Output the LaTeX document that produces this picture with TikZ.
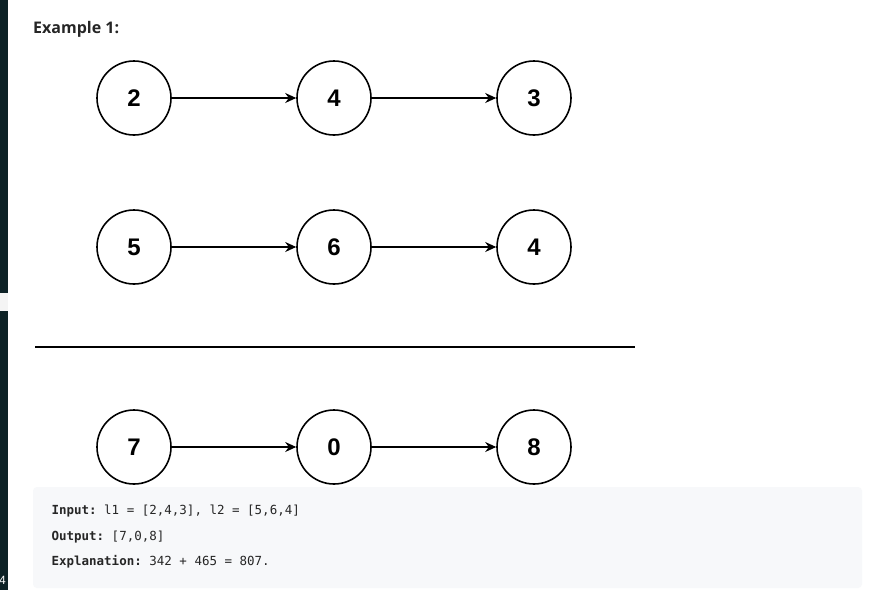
\documentclass[tikz,border=0pt]{standalone}
\usepackage{fontspec}
\setmainfont{Liberation Sans}
\setsansfont{Open Sans}
\setmonofont{DejaVu Sans Mono}
\usetikzlibrary{arrows.meta}
\definecolor{strip}{HTML}{0D2226}
\definecolor{codebg}{HTML}{F7F8FA}
\definecolor{txt}{HTML}{262626}
\begin{document}
\begin{tikzpicture}[x=1pt,y=-1pt,
  ln/.style={circle,draw,line width=1.6pt,minimum size=74pt,inner sep=0pt,font=\fontsize{24}{24}\selectfont\bfseries},
  arr/.style={line width=1.2pt,-{Stealth[length=11pt,width=10pt]}},
  code/.style={anchor=west,font=\ttfamily\fontsize{12.5}{14}\selectfont,text=txt}]
\useasboundingbox (0,0) rectangle (888,590);
\fill[white] (0,0) rectangle (888,590);
\fill[strip] (0,0) rectangle (8,590);
\fill[codebg!60!gray!20] (0,293) rectangle (8,311);
\node[anchor=west,text=white,font=\fontsize{12}{12}\selectfont,inner sep=0pt] (four) at (-1,580) {4};
\node[anchor=west,font=\sffamily\bfseries\fontsize{16}{16}\selectfont,text=txt,inner sep=0pt] (title) at (33,29) {Example 1:};
\foreach \r/\y/\a/\b/\c in {1/98/2/4/3, 2/247/5/6/4, 3/447/7/0/8}{
  \node[ln] (a\r) at (134,\y) {\a};
  \node[ln] (b\r) at (334,\y) {\b};
  \node[ln] (c\r) at (534,\y) {\c};
  \draw[arr] (a\r) -- (b\r);
  \draw[arr] (b\r) -- (c\r);
}
\coordinate (l1) at (35,347); \coordinate (l2) at (635,347);
\draw[line width=2.5pt] (l1) -- (l2);
\fill[codebg,rounded corners=4pt] (33,487) rectangle (862,588);
\node[code] (in) at (48,511) {\textbf{Input:} l1 = [2,4,3], l2 = [5,6,4]};
\node[code] (out) at (48,537) {\textbf{Output:} [7,0,8]};
\node[code] (ex) at (48,562) {\textbf{Explanation:} 342 + 465 = 807.};
\end{tikzpicture}
\end{document}
